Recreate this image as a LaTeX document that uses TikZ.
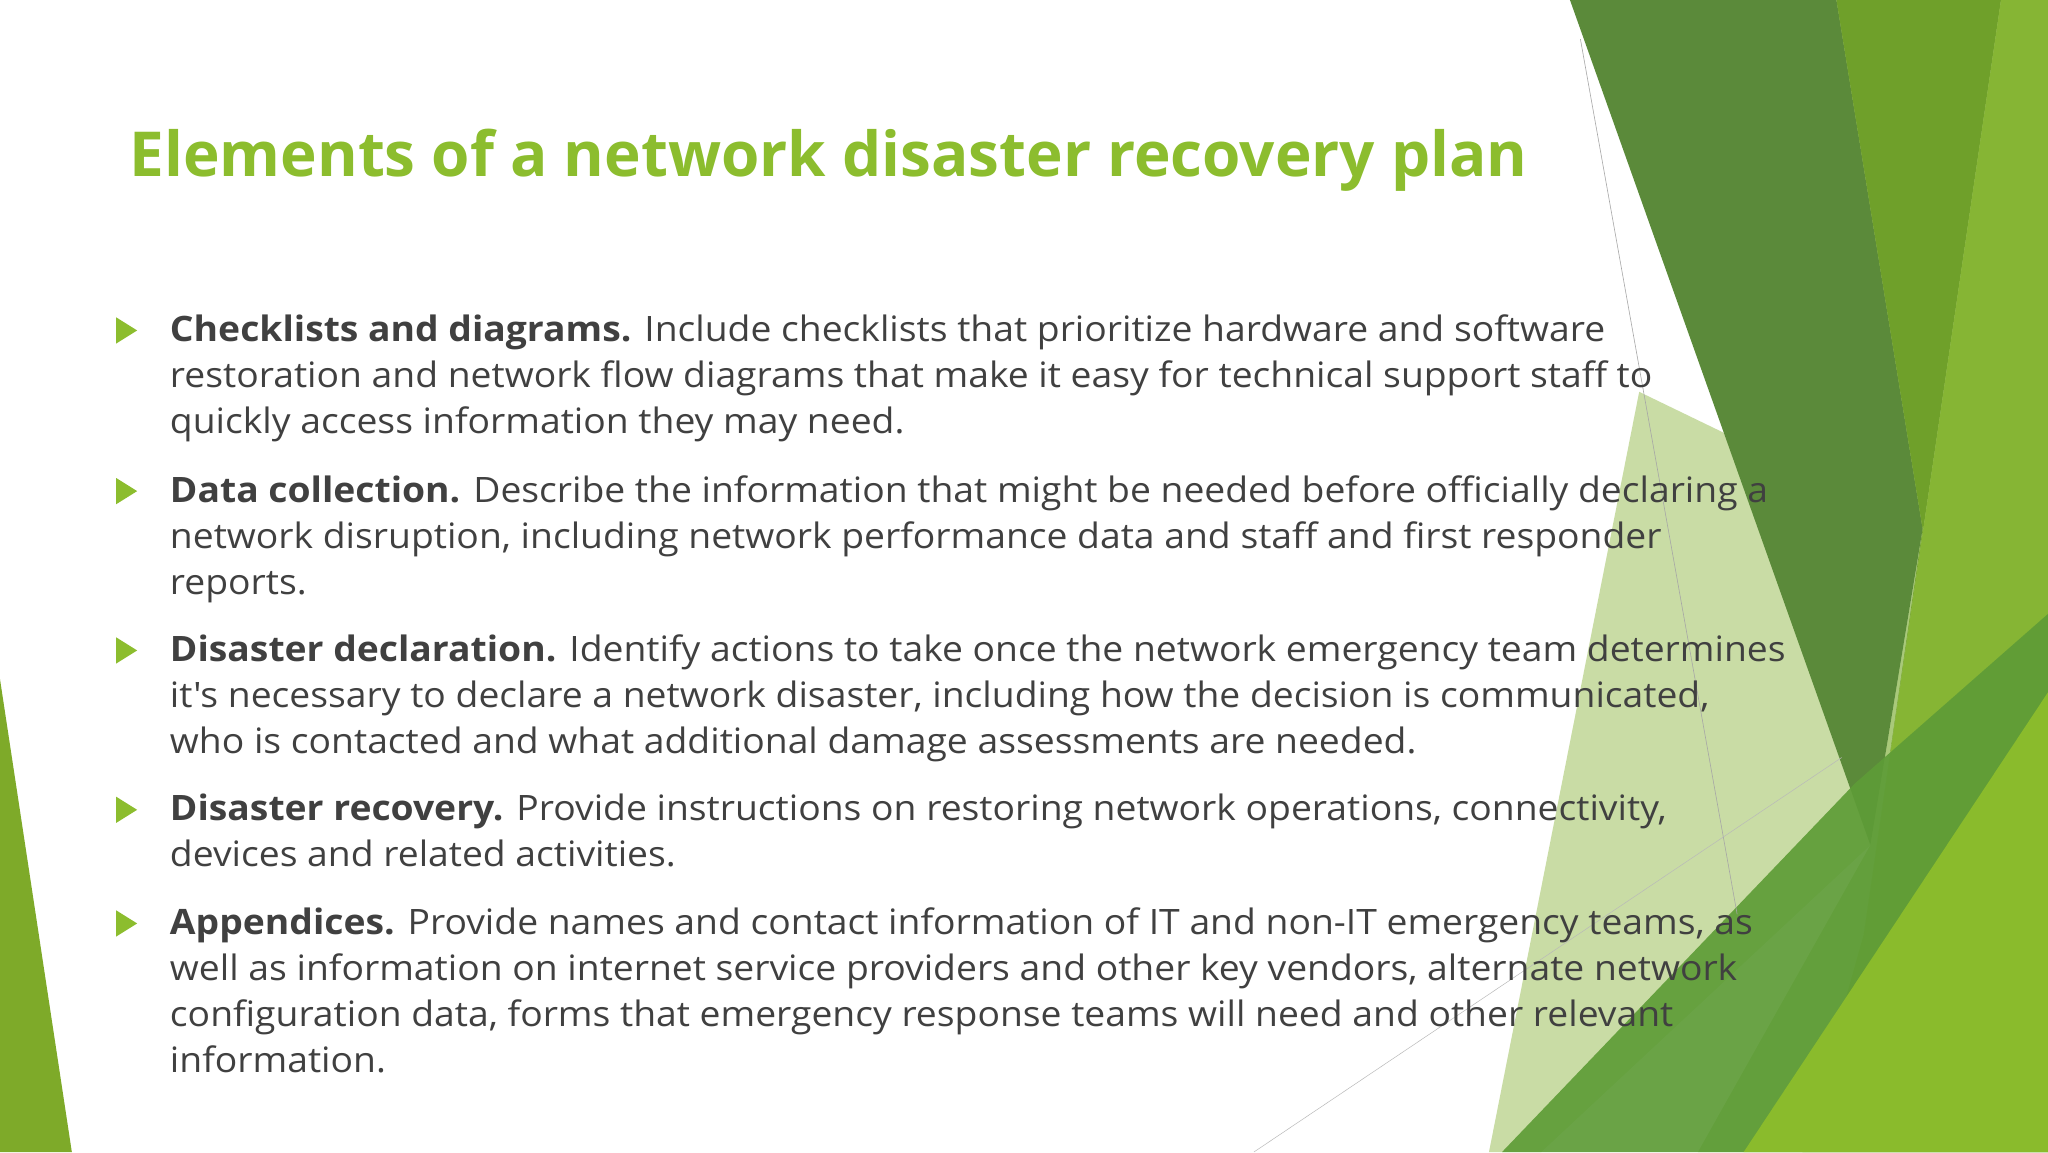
\documentclass[tikz,border=0pt]{standalone}
\usepackage{fontspec}
\setmainfont{Open Sans}
\newfontfamily\bodyfont[FakeStretch=1.065]{Open Sans}
\definecolor{titlegreen}{HTML}{8CBD2E}
\definecolor{bodygrey}{HTML}{404040}
\definecolor{darkg}{HTML}{5B8A3A}
\definecolor{oliveg}{HTML}{6FA02A}
\definecolor{brightg}{HTML}{86B534}
\definecolor{midg}{HTML}{5E9C37}
\definecolor{limeg}{HTML}{8ABB2C}
\definecolor{paleg}{HTML}{C9DCA5}
\definecolor{paleg2}{HTML}{A9C97A}
\tikzset{
  para/.style={anchor=north west, align=left, inner sep=0pt, text=bodygrey,
    font=\bodyfont\fontsize{35}{45.8}\selectfont},
  bul/.style={fill=titlegreen},
}
\begin{document}
\begin{tikzpicture}[x=1.30612pt,y=-1.30612pt]
\useasboundingbox (0,0) rectangle (1568,882);
\fill[white] (0,0) rectangle (1568,882);
% decorative facets
\fill[paleg2] (1406,0) -- (1568,0) -- (1568,882) -- (1300,882) -- (1432,647) -- cycle;
\fill[paleg] (1255,300) -- (1472,405) -- (1432,647) -- (1180,882) -- (1140,882) -- cycle;
\fill[darkg] (1202,0) -- (1406,0) -- (1472,405) -- (1432,647) -- cycle;
\fill[oliveg] (1406,0) -- (1532,0) -- (1427,715) -- (1472,405) -- cycle;
\fill[brightg] (1532,0) -- (1568,0) -- (1568,882) -- (1380,882) -- (1427,715) -- cycle;
\fill[midg, opacity=0.92] (1150,882) -- (1420,600) -- (1568,470) -- (1568,882) -- cycle;
\fill[limeg] (1335,882) -- (1568,530) -- (1568,882) -- cycle;
\fill[titlegreen!90!black] (0,520) -- (55,882) -- (0,882) -- cycle;
\draw[gray!70, line width=0.6pt] (1210,30) -- (1330,700);
\draw[gray!55, line width=0.5pt] (960,882) -- (1410,580);
% title
\node[anchor=base west, inner sep=0pt, text=titlegreen, font=\fontsize{62}{70}\selectfont\bfseries] (title) at (99,135) {Elements of a network disaster recovery plan};
% bullets
\foreach \yy [count=\i] in {253,376,498,620,707}{
  \fill[bul] (89,\yy-10) -- (105,\yy) -- (89,\yy+10) -- cycle;
}
\node[para] (p1) at (130,241) {\textbf{Checklists and diagrams.} Include checklists that prioritize hardware and software\\restoration and network flow diagrams that make it easy for technical support staff to\\quickly access information they may need.};
\node[para] (p2) at (130,364) {\textbf{Data collection.} Describe the information that might be needed before officially declaring a\\network disruption, including network performance data and staff and first responder\\reports.};
\node[para] (p3) at (130,486) {\textbf{Disaster declaration.} Identify actions to take once the network emergency team determines\\it's necessary to declare a network disaster, including how the decision is communicated,\\who is contacted and what additional damage assessments are needed.};
\node[para] (p4) at (130,608) {\textbf{Disaster recovery.} Provide instructions on restoring network operations, connectivity,\\devices and related activities.};
\node[para] (p5) at (130,695) {\textbf{Appendices.} Provide names and contact information of IT and non-IT emergency teams, as\\well as information on internet service providers and other key vendors, alternate network\\configuration data, forms that emergency response teams will need and other relevant\\information.};
\end{tikzpicture}
\end{document}
